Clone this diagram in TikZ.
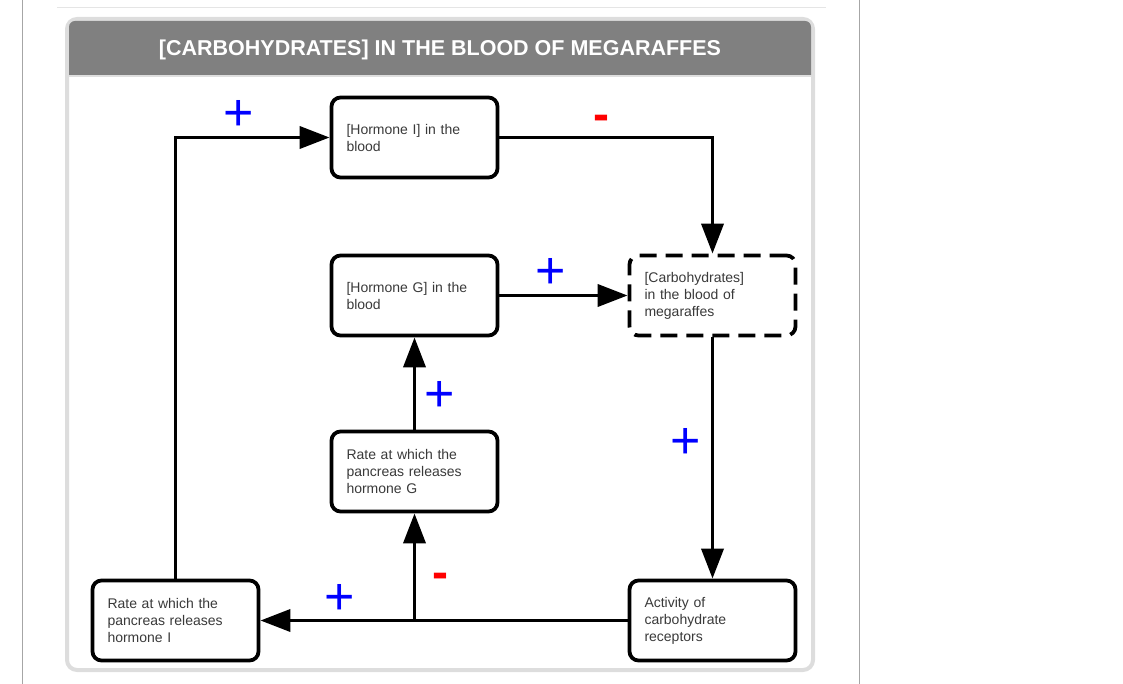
\documentclass[tikz,border=0pt]{standalone}
\usepackage{fontspec}
\setmainfont{Liberation Sans}
\usetikzlibrary{arrows.meta}
\definecolor{headgray}{HTML}{808080}
\definecolor{framegray}{HTML}{DDDDDD}
\definecolor{txtgray}{HTML}{3A3A3A}
\definecolor{plusblue}{HTML}{0000FF}
\definecolor{minusred}{HTML}{FF0000}
\begin{document}
\begin{tikzpicture}[x=1pt,y=-1pt,
    box/.style={draw, line width=3.8pt, rounded corners=9pt, minimum width=166pt, minimum height=80pt,
        text width=136pt, inner xsep=15pt, align=left, font=\fontsize{14}{17}\selectfont, text=txtgray},
    dbox/.style={box, dash pattern=on 17pt off 9pt},
    arr/.style={line width=3.8pt, -{Triangle[length=30pt,width=22pt]}},
    plus/.style={text=plusblue, inner sep=0pt, font=\fontsize{52}{52}\selectfont},
    minus/.style={text=minusred, inner sep=0pt, font=\fontsize{48}{48}\selectfont\bfseries}]
\useasboundingbox (0,0) rectangle (1123,684);

    \draw[gray!70, line width=1pt] (22,0) -- (22,684);
    \draw[gray!70, line width=1pt] (859,0) -- (859,684);
    \draw[gray!20, line width=1pt] (57,7.5) -- (826,7.5);

    \draw[framegray, line width=4pt, fill=white, rounded corners=10pt] (67,19) rectangle (813,670);
    \fill[headgray] (69,75) {[rounded corners=6pt] -- (69,21) -- (811,21)} -- (811,75) -- cycle;
    \draw[gray!25, line width=2pt] (69,76) -- (811,76);
    \node[font=\fontsize{21.5}{26}\selectfont\bfseries, text=white] (title) at (440,50) {[CARBOHYDRATES] IN THE BLOOD OF MEGARAFFES};

\node[box] (hormi) at (414.5,137.5) {[Hormone I] in the\\blood};
\node[box] (hormg) at (414.5,295.5) {[Hormone G] in the\\blood};
\node[dbox] (carbs) at (712.5,295.5) {[Carbohydrates]\\in the blood of\\megaraffes};
\node[box] (rateg) at (414.5,471.5) {Rate at which the\\pancreas releases\\hormone G};
\node[box] (ratei) at (175.5,620.5) {Rate at which the\\pancreas releases\\hormone I};
\node[box] (recep) at (712.5,620.5) {Activity of\\carbohydrate\\receptors};

\coordinate (split) at (rateg.south |- recep.west);

\draw[arr] (ratei.north) |- (hormi.west);
\draw[arr] (hormi.east) -| (carbs.north);
\draw[arr] (hormg.east) -- (carbs.west);
\draw[arr] (carbs.south) -- (recep.north);
\draw[arr] (recep.west) -- (ratei.east);
\draw[arr] (split) -- (rateg.south);
\draw[arr] (rateg.north) -- (hormg.south);

\node[plus] (p1) at (239,115) {+};
\node[minus] (m1) at (601,123) {-};
\node[plus] (p2) at (551,273) {+};
\node[plus] (p3) at (686,443) {+};
\node[plus] (p4) at (340,599) {+};
\node[minus] (m2) at (440,581) {-};
\node[plus] (p5) at (440,396) {+};

\end{tikzpicture}
\end{document}
